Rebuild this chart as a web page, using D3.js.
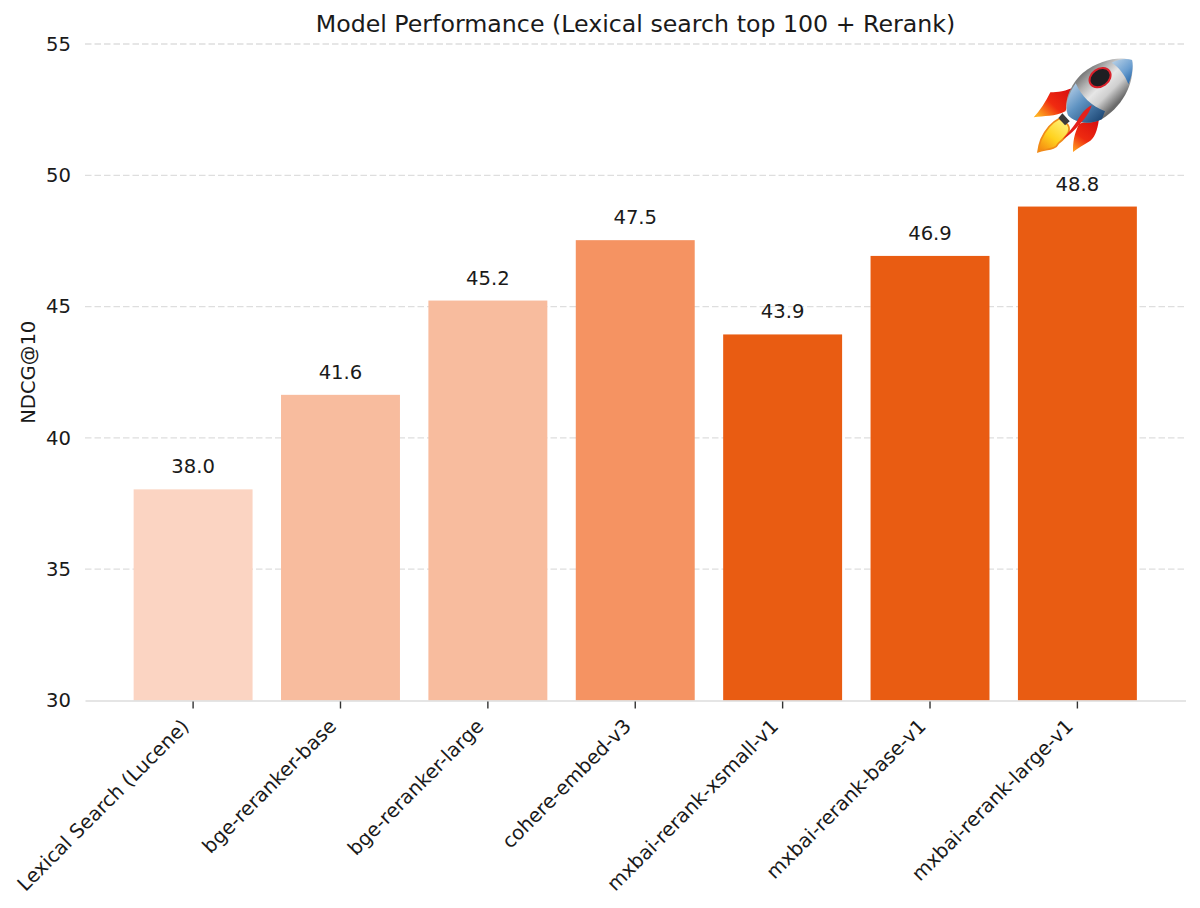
<!DOCTYPE html>
<html>
<head>
<meta charset="utf-8">
<script src="https://cdn.jsdelivr.net/npm/d3@7"></script>
<style>
  html, body { margin: 0; padding: 0; background: #fff; }
  text { font-family: "DejaVu Sans", sans-serif; fill: #1a1a1a; }
</style>
</head>
<body>
<svg id="chart"></svg>
<script>
// Define global variables
const WIDTH = 1200;
const HEIGHT = 908;

const models = [
  "Lexical Search (Lucene)",
  "bge-reranker-base",
  "bge-reranker-large",
  "cohere-embed-v3",
  "mxbai-rerank-xsmall-v1",
  "mxbai-rerank-base-v1",
  "mxbai-rerank-large-v1"
];
const ndcg = [38.04, 41.64, 45.23, 47.53, 43.94, 46.93, 48.81];
const barColors = ["#fbd4c2", "#f8bc9e", "#f8bc9e", "#f59362", "#e95c12", "#e95c12", "#e95c12"];
const yTicks = [30, 35, 40, 45, 50, 55];

const FONT = 19.6;

const svg = d3.select("#chart")
  .attr("width", WIDTH)
  .attr("height", HEIGHT)
  .attr("viewBox", `0 0 ${WIDTH} ${HEIGHT}`)
  .style("display", "block");

const x = d3.scaleBand()
  .domain(models)
  .range([85, 1185.5])
  .paddingInner(0.193)
  .paddingOuter(0.33);

const y = d3.scaleLinear().domain([30, 55]).range([700.5, 44]);

// gridlines go under the bars
svg.append("g")
  .selectAll("line")
  .data(yTicks.slice(1))
  .join("line")
  .attr("x1", 85)
  .attr("x2", 1186)
  .attr("y1", d => y(d))
  .attr("y2", d => y(d))
  .attr("stroke", "#dedede")
  .attr("stroke-width", 1.3)
  .attr("stroke-dasharray", "6.5 3");

svg.selectAll("rect.bar")
  .data(models)
  .join("rect")
  .attr("class", "bar")
  .attr("x", d => x(d))
  .attr("width", x.bandwidth())
  .attr("y", (d, i) => y(ndcg[i]))
  .attr("height", (d, i) => y(30) - y(ndcg[i]))
  .attr("fill", (d, i) => barColors[i]);

// value labels
svg.selectAll("text.value")
  .data(models)
  .join("text")
  .attr("class", "value")
  .attr("x", d => x(d) + x.bandwidth() / 2)
  .attr("y", (d, i) => y(ndcg[i]) - 16)
  .attr("text-anchor", "middle")
  .attr("font-size", FONT)
  .text((d, i) => ndcg[i].toFixed(1));

// y axis
const yAxis = svg.append("g")
  .attr("transform", "translate(85,0)")
  .call(d3.axisLeft(y).tickValues(yTicks).tickSize(0).tickPadding(14));
yAxis.select(".domain").remove();
yAxis.selectAll("text").attr("font-size", FONT).attr("fill", "#1a1a1a");

// x axis
const xAxis = svg.append("g")
  .attr("transform", `translate(0,${y(30)})`)
  .call(d3.axisBottom(x).tickSize(0).tickSizeOuter(0));
xAxis.select(".domain")
  .attr("stroke", "#dddddd")
  .attr("stroke-width", 1.4);
xAxis.selectAll(".tick line")
  .attr("y1", 1)
  .attr("y2", 8)
  .attr("stroke", "#333333")
  .attr("stroke-width", 1.4);
xAxis.selectAll(".tick text")
  .attr("font-size", FONT)
  .attr("fill", "#1a1a1a")
  .attr("text-anchor", "end")
  .attr("dx", 0)
  .attr("dy", 0)
  .attr("y", 0)
  .attr("transform", "translate(-3,27) rotate(-45)");

svg.append("text")
  .attr("x", 635.5)
  .attr("y", 32)
  .attr("text-anchor", "middle")
  .attr("font-size", 23.7)
  .text("Model Performance (Lexical search top 100 + Rerank)");

svg.append("text")
  .attr("transform", `translate(35,${y(42.5)}) rotate(-90)`)
  .attr("text-anchor", "middle")
  .attr("font-size", FONT)
  .text("NDCG@10");

// rocket, sits over the last bar
function gradient(defs, id, x1, y1, x2, y2, stops) {
  const g = defs.append("linearGradient")
    .attr("id", id)
    .attr("gradientUnits", "userSpaceOnUse")
    .attr("x1", x1).attr("y1", y1).attr("x2", x2).attr("y2", y2);
  stops.forEach(s => g.append("stop").attr("offset", s[0]).attr("stop-color", s[1]));
}

const defs = svg.append("defs");
gradient(defs, "silver", 250, 90, 350, 190, [[0, "#6f6f6f"], [0.25, "#b0b0b0"], [0.5, "#e6e6e6"], [0.72, "#cfcfcf"], [1, "#6a6a6a"]]);
gradient(defs, "blue", 215, 140, 305, 235, [[0, "#a9c6e2"], [0.4, "#5f93c2"], [1, "#1f4a78"]]);
gradient(defs, "nose", 335, 65, 395, 130, [[0, "#b5cfe6"], [0.55, "#6a9ed0"], [1, "#1d5fa3"]]);
gradient(defs, "finL", 205, 145, 120, 235, [[0, "#d80f0f"], [0.55, "#f02a10"], [1, "#ffb020"]]);
gradient(defs, "finR", 285, 240, 222, 330, [[0, "#d80f0f"], [0.6, "#ee2a10"], [1, "#ff9a20"]]);
gradient(defs, "flame", 190, 240, 120, 330, [[0, "#fff27a"], [0.55, "#ffd21e"], [1, "#f58a10"]]);

const rocket = svg.append("g")
  .attr("transform", `translate(${x(models[6]) + x.bandwidth() / 2 - 77},${y(55) - 4}) scale(0.3333)`);

rocket.append("path").attr("fill", "url(#finL)")
  .attr("d", "M228,138 C195,155 172,156 150,157 C136,186 118,212 100,232 C130,227 165,231 195,214 Z");
rocket.append("path").attr("fill", "url(#finR)")
  .attr("d", "M297,228 C293,262 287,288 270,302 C250,314 232,324 218,336 C217,306 222,280 236,252 Z");
rocket.append("path").attr("fill", "url(#flame)").attr("stroke", "#f08a18").attr("stroke-width", 5)
  .attr("d", "M176,236 C148,250 132,276 122,298 C116,314 114,326 113,335 C135,326 164,332 174,310 C192,296 216,272 202,254 Z");
rocket.append("path").attr("fill", "#3a3a3a")
  .attr("d", "M186,220 L174,234 L194,256 L208,244 Z");
rocket.append("path").attr("fill", "url(#silver)")
  .attr("d", "M395,60 C404,114 378,192 304,238 C272,254 226,252 203,226 C186,194 208,132 248,98 C298,58 360,48 395,60 Z");
rocket.append("path").attr("fill", "url(#nose)")
  .attr("d", "M395,60 C400,82 394,112 384,132 C374,106 358,84 334,68 C354,58 376,54 395,60 Z");
rocket.append("path").attr("fill", "url(#blue)")
  .attr("d", "M226,130 C244,170 272,198 314,214 C310,222 308,232 304,238 C272,254 226,252 203,226 C192,198 206,158 226,130 Z");
rocket.append("path").attr("fill", "#e4201a")
  .attr("d", "M274,196 C254,206 240,224 230,244 C216,264 200,284 186,298 C206,288 226,268 240,250 C254,236 268,216 274,196 Z");
rocket.append("ellipse")
  .attr("cx", 299).attr("cy", 113).attr("rx", 34).attr("ry", 26)
  .attr("transform", "rotate(-35 299 113)")
  .attr("fill", "#1e1e22")
  .attr("stroke", "#d9202a")
  .attr("stroke-width", 6);
</script>
</body>
</html>
